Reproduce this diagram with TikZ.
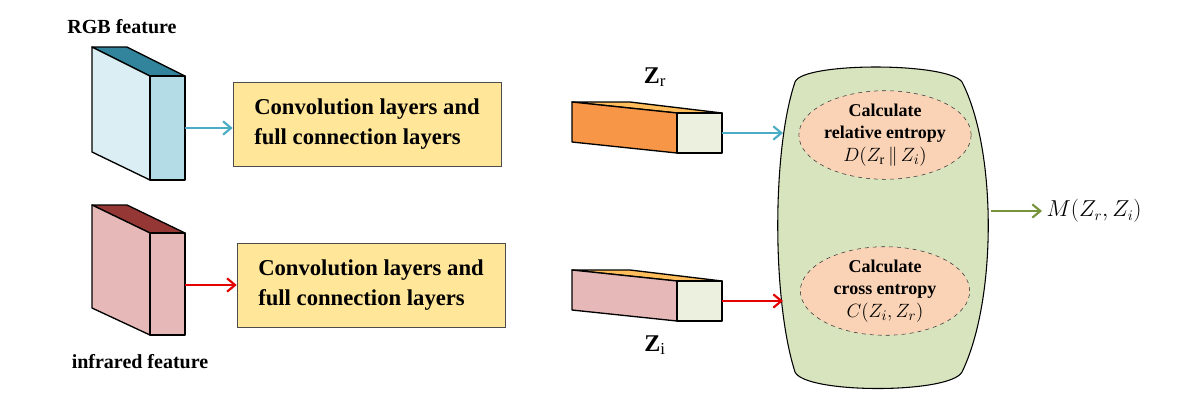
\documentclass[tikz,border=0pt]{standalone}
\usepackage{fontspec}
\setmainfont{Liberation Serif}
\usetikzlibrary{arrows.meta,shapes.geometric}
\definecolor{ltblue}{HTML}{DAEEF4}
\definecolor{sdblue}{HTML}{B3DCE6}
\definecolor{tpblue}{HTML}{31849B}
\definecolor{ltpink}{HTML}{E6B9B8}
\definecolor{tpred}{HTML}{953735}
\definecolor{yel}{HTML}{FFE699}
\definecolor{orng}{HTML}{F79646}
\definecolor{sidew}{HTML}{EBF1DE}
\definecolor{grn}{HTML}{D7E4BD}
\definecolor{peach}{HTML}{FAD3B6}
\definecolor{arblue}{HTML}{4BACC6}
\definecolor{argrn}{HTML}{77933C}
\begin{document}
\begin{tikzpicture}[x=0.75pt,y=-0.75pt,
  face/.style={draw=black,line width=1pt,line join=round},
  conv/.style={draw=black!70,fill=yel,minimum width=201pt,minimum height=63pt,inner sep=0,align=left,font=\bfseries\fontsize{17}{22}\selectfont},
  ent/.style={draw=black!80,dashed,fill=peach,ellipse,minimum width=127pt,minimum height=60pt,inner sep=0,align=center,font=\bfseries\fontsize{13.5}{17}\selectfont},
  arr/.style={-{Straight Barb[length=6pt,width=10pt]},line width=1.6pt},
  lbl/.style={font=\bfseries\fontsize{15}{18}\selectfont}]
\useasboundingbox (0,0) rectangle (1194,401);
% RGB block
\filldraw[face,fill=tpblue] (92,47)--(127,47)--(185,76)--(150,76)--cycle;
\filldraw[face,fill=ltblue] (92,47)--(150,76)--(150,180)--(92,152)--cycle;
\filldraw[face,fill=sdblue] (150,76)--(185,76)--(185,180)--(150,180)--cycle;
\coordinate (rgbout) at (185,128);
% infrared block
\filldraw[face,fill=tpred] (92,205)--(127,205)--(185,233)--(150,233)--cycle;
\filldraw[face,fill=ltpink] (92,205)--(150,233)--(150,335)--(92,308)--cycle;
\filldraw[face,fill=ltpink] (150,233)--(185,233)--(185,335)--(150,335)--cycle;
\coordinate (irout) at (185,285);
\node[lbl] (rgbl) at (122,27) {RGB feature};
\node[lbl] (irl) at (140,362) {infrared feature};
% conv boxes
\node[conv] (c1) at (367,124) {Convolution layers and\\full connection layers};
\node[conv] (c2) at (371,285) {Convolution layers and\\full connection layers};
\draw[arr,arblue] (rgbout) -- (c1.west|-rgbout);
\draw[arr,red!90!black] (irout) -- (c2.west|-irout);
% Z blocks
\foreach \dy/\col/\nm in {0/orng/zr,168/ltpink/zi}{
  \begin{scope}[yshift=-\dy*0.75pt]
  \filldraw[face,fill=yel!60!orange] (572,102)--(630,102)--(722,113)--(677,113)--cycle;
  \filldraw[face,fill=\col] (572,102)--(677,113)--(677,153)--(572,142)--cycle;
  \filldraw[face,fill=sidew] (677,113)--(722,113)--(722,153)--(677,153)--cycle;
  \coordinate (\nm) at (722,133);
  \end{scope}}
\node[font=\fontsize{18}{20}\selectfont] (zrl) at (655,77) {$\mathbf{Z}_{\mathrm{r}}$};
\node[font=\fontsize{18}{20}\selectfont] (zil) at (655,345) {$\mathbf{Z}_{\mathrm{i}}$};
% green shape
\filldraw[draw=black,fill=grn,line width=0.8pt] (795,82) .. controls (802,62) and (948,62) .. (962,82)
  .. controls (997,150) and (997,300) .. (962,372)
  .. controls (950,394) and (805,394) .. (795,372)
  .. controls (772,300) and (772,150) .. (795,82) -- cycle;
\coordinate (gin1) at (783,133);
\coordinate (gin2) at (783,301);
\coordinate (gout) at (991,211);
\node[ent] (e1) at (885,135) {Calculate\\relative entropy\\\mdseries\fontsize{15}{15}\selectfont$D(Z_{\mathrm{r}}\,\|\,Z_i)$};
\node[ent] (e2) at (885,291) {Calculate\\cross entropy\\\mdseries\fontsize{15}{15}\selectfont$C(Z_i,Z_r)$};
\draw[arr,arblue] (zr) -- (gin1);
\draw[arr,red!90!black] (zi) -- (gin2);
\node[anchor=west,font=\fontsize{16}{18}\selectfont] (m) at (1042,211) {$M(Z_r,Z_i)$};
\draw[arr,argrn] (gout) -- (m.west);
\end{tikzpicture}
\end{document}
